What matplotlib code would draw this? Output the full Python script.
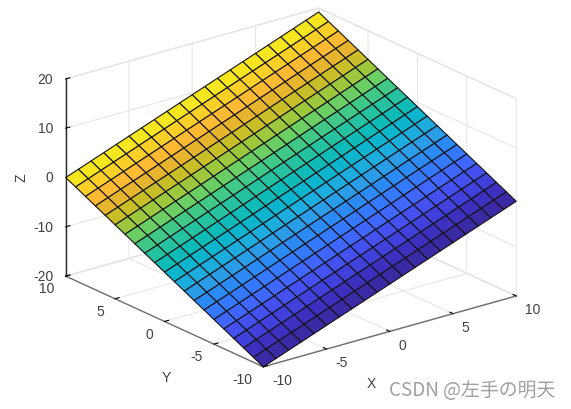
import numpy as np
import matplotlib
matplotlib.use("Agg")
import matplotlib.pyplot as plt
from matplotlib.colors import ListedColormap

x_values = [-10, -9, -8, -7, -6, -5, -4, -3, -2, -1, 0, 1, 2, 3, 4, 5, 6, 7, 8, 9, 10]
y_values = [-10, -9, -8, -7, -6, -5, -4, -3, -2, -1, 0, 1, 2, 3, 4, 5, 6, 7, 8, 9, 10]
# z on the left edge (x = -10) and on the right edge (x = 10), one per y value
z_left = [-20, -19, -18, -17, -16, -15, -14, -13, -12, -11, -10, -9, -8, -7, -6, -5, -4, -3, -2, -1, 0]
z_right = [-0.8, 0.2, 1.2, 2.2, 3.2, 4.2, 5.2, 6.2, 7.2, 8.2, 9.2, 10.2, 11.2, 12.2, 13.2, 14.2, 15.2, 16.2, 17.2, 18.2, 19.2]
row_colors = ['#3B2AA5', '#3D30C0', '#4040DC', '#4450F0', '#3F66FF', '#3479FF', '#2C8AF5', '#2A9CE8',
              '#1CACDE', '#0DB4CE', '#0FBBB6', '#25C2A2', '#40C888', '#6BCE64', '#9DC83E', '#C8BE28',
              '#E7B42E', '#FDBA32', '#FAD028', '#F5E61F', '#F5E61F']
x_ticks = [-10, -5, 0, 5, 10]
y_ticks = [-10, -5, 0, 5, 10]
z_ticks = [-20, -10, 0, 10, 20]

plt.rcParams['font.family'] = ['Liberation Sans', 'DejaVu Sans']
plt.rcParams['axes.unicode_minus'] = False
W = 486
fig = plt.figure(figsize=(5.71, 4.09), dpi=100)
ax = fig.add_axes([41.4 / 571, -28 / 409, W / 571, W / 409], projection='3d')
ax.set_proj_type('ortho')
ax.view_init(elev=21, azim=-128)
ax.set_box_aspect((322, 322, 212))

X, Y = np.meshgrid(x_values, y_values)
Z = np.array([(np.array(x_values, float) + 10) * (r - l) / 20 + l for l, r in zip(z_left, z_right)])
cmap = ListedColormap(row_colors)
C = cmap(np.repeat(np.arange(len(y_values))[:, None], len(x_values), axis=1) / (len(y_values) - 1))
ax.plot_surface(X, Y, Z, facecolors=C, rstride=1, cstride=1, shade=False,
                edgecolor='#141414', linewidth=0.8, antialiased=True)

ax.set_xlim(-10, 10, view_margin=0)
ax.set_ylim(-10, 10, view_margin=0)
ax.set_zlim(-20, 20, view_margin=0)
ax.set_xticks(x_ticks)
ax.set_yticks(y_ticks)
ax.set_zticks(z_ticks)
ax.tick_params(labelsize=10, labelcolor='#404040', pad=0)
ax.zaxis.set_tick_params(pad=-3)
for axis, col in ((ax.xaxis, '#707070'), (ax.yaxis, '#707070'), (ax.zaxis, '#262626')):
    axis.set_pane_color((1, 1, 1, 1))
    axis.pane.set_edgecolor('#e6e6e6')
    axis.line.set_color(col)
    axis.line.set_linewidth(1.0)
    axis._axinfo['grid'].update(color='#e4e4e4', linewidth=0.7)
    axis._axinfo['tick'].update(inward_factor=0.0, outward_factor=0.2, color=col)
    axis._axinfo['tick']['linewidth'] = {True: 0.8, False: 0.5}
    axis.set_rotate_label(False)
for label in ax.xaxis.get_ticklabels():
    label.set_ha('left')
    label.set_va('center_baseline')
for label in ax.yaxis.get_ticklabels():
    label.set_ha('right')
    label.set_va('center_baseline')
for label in ax.zaxis.get_ticklabels():
    label.set_ha('right')
    label.set_va('center_baseline')


def pin_label(axis, text, px, py, rotation=0):
    axis.set_label_text(text, fontsize=10, color='#404040', rotation=rotation)
    pos = ax.transData.inverted().transform((px, 409 - py))
    axis.label.set_position(pos)
    axis.label.set_position = lambda *a: None


pin_label(ax.xaxis, 'X', 371, 384)
pin_label(ax.yaxis, 'Y', 166, 378)
pin_label(ax.zaxis, 'Z', 22, 178, rotation=90)

fig.text(389 / 571, 1 - 390 / 409, 'CSDN @左手の明天', fontsize=13.6, color='#a0a0a0', va='center',
         family=['Noto Sans CJK SC', 'DejaVu Sans'])
fig.savefig('out.png', dpi=100)
